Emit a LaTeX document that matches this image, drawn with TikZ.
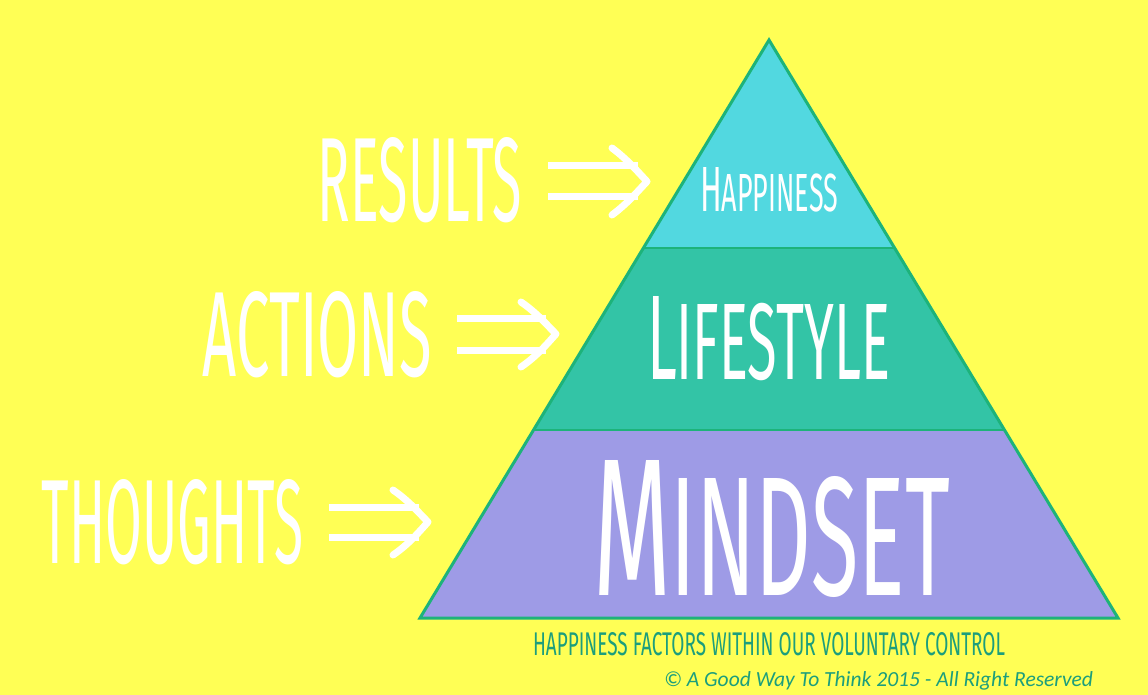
\documentclass[tikz,border=0pt]{standalone}
\usepackage{fontspec}
\setmainfont{Fira Sans}
\newfontfamily\footfont{Carlito}
\usepackage{graphicx}
\definecolor{bgyellow}{HTML}{FFFF55}
\definecolor{topcyan}{HTML}{52D8E0}
\definecolor{midteal}{HTML}{33C4A6}
\definecolor{botlav}{HTML}{9E9BE6}
\definecolor{edgegreen}{HTML}{1DB37A}
\definecolor{foottext}{HTML}{1C9E7C}
\tikzset{
  layer/.style={draw=none},
  edge/.style={draw=edgegreen, line width=3pt, line join=miter},
  word/.style={inner sep=0pt, outer sep=0pt, text=white, anchor=center},
  arrowbar/.style={draw=white, line width=7pt},
  chevron/.style={draw=white, line width=7pt, line cap=round, line join=round},
  foot/.style={inner sep=0pt, outer sep=0pt, text=foottext}
}
\begin{document}
\begin{tikzpicture}[x=1pt, y=-1pt]
\fill[bgyellow] (0,0) rectangle (1148,695);
\useasboundingbox (0,0) rectangle (1148,695);
% pyramid corners
\coordinate (apex) at (769,40);
\coordinate (bl) at (420,618);
\coordinate (br) at (1118,618);
\coordinate (t1l) at (643.4,248);
\coordinate (t1r) at (894.6,248);
\coordinate (t2l) at (533.5,430);
\coordinate (t2r) at (1004.5,430);
\fill[topcyan] (apex) -- (t1r) -- (t1l) -- cycle;
\fill[midteal] (t1l) -- (t1r) -- (t2r) -- (t2l) -- cycle;
\fill[botlav] (t2l) -- (t2r) -- (br) -- (bl) -- cycle;
\draw[edge] (apex) -- (br) -- (bl) -- cycle;
\draw[edge, line width=2.5pt] (t1l) -- (t1r);
\draw[edge, line width=2.5pt] (t2l) -- (t2r);
% layer labels
\node[word] (happy) at (769,190) {\resizebox{138pt}{44pt}{{\fontsize{44}{44}\selectfont H}{\fontsize{37}{37}\selectfont APPINESS}}};
\node[word] (life) at (768.5,338.5) {\resizebox{243pt}{83pt}{{\fontsize{83}{83}\selectfont L}{\fontsize{75}{75}\selectfont IFESTYLE}}};
\node[word] (mind) at (771.5,529.5) {\resizebox{357pt}{135pt}{{\fontsize{135}{135}\selectfont M}{\fontsize{117}{117}\selectfont INDSET}}};
% left labels
\node[word] (results) at (420,180) {\resizebox{204pt}{84pt}{RESULTS}};
\node[word] (actions) at (317.5,335) {\resizebox{229pt}{85pt}{ACTIONS}};
\node[word] (thoughts) at (172.5,522) {\resizebox{261pt}{84pt}{THOUGHTS}};
% arrows
\coordinate (r1) at (548,166); \coordinate (r2) at (638,166);
\coordinate (r3) at (548,197); \coordinate (r4) at (638,197);
\coordinate (ra) at (612,148); \coordinate (rt) at (647,181.5); \coordinate (rb) at (612,215);
\draw[arrowbar] (r1) -- (r2);
\draw[arrowbar] (r3) -- (r4);
\draw[chevron] (ra) .. controls (628,160) and (638,172) .. (rt) .. controls (638,191) and (628,203) .. (rb);
\coordinate (a1) at (457,318); \coordinate (a2) at (546,318);
\coordinate (a3) at (457,350); \coordinate (a4) at (546,350);
\coordinate (aa) at (521,302); \coordinate (at) at (556,334); \coordinate (ab) at (521,367);
\draw[arrowbar] (a1) -- (a2);
\draw[arrowbar] (a3) -- (a4);
\draw[chevron] (aa) .. controls (537,313) and (547,325) .. (at) .. controls (547,344) and (537,356) .. (ab);
\coordinate (h1) at (329,507); \coordinate (h2) at (419,507);
\coordinate (h3) at (329,537); \coordinate (h4) at (419,537);
\coordinate (ha) at (393,490); \coordinate (ht) at (428,522); \coordinate (hb) at (393,555);
\draw[arrowbar] (h1) -- (h2);
\draw[arrowbar] (h3) -- (h4);
\draw[chevron] (ha) .. controls (409,501) and (419,513) .. (ht) .. controls (419,532) and (409,544) .. (hb);
% footer
\node[foot, anchor=west] (factors) at (533,644.5) {\resizebox{472pt}{23pt}{HAPPINESS FACTORS WITHIN OUR VOLUNTARY CONTROL}};
\node[foot, anchor=base west] (copy) at (664,686) {\resizebox{429pt}{!}{\footfont\itshape\fontsize{20}{20}\selectfont © A Good Way To Think 2015 - All Right Reserved}};
\end{tikzpicture}
\end{document}
